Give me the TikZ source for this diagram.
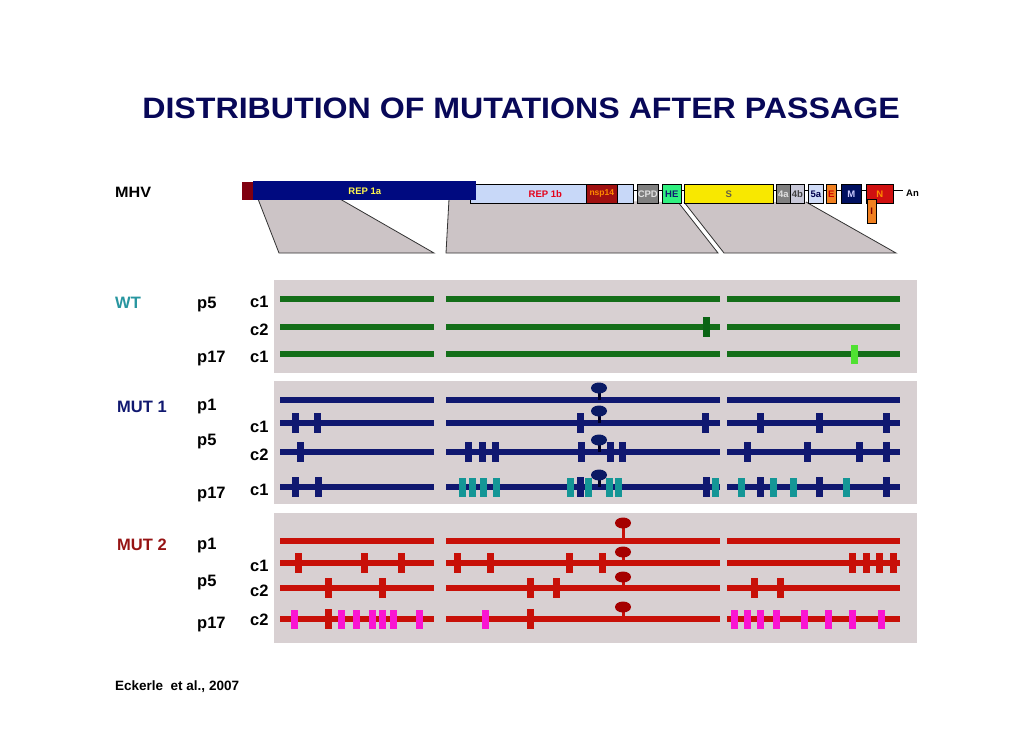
\documentclass[tikz,border=0pt]{standalone}
\usepackage{fontspec}
\setmainfont{Liberation Sans}
\definecolor{titlenavy}{RGB}{8,8,88}
\definecolor{navyline}{RGB}{16,24,112}
\definecolor{navypin}{RGB}{10,26,100}
\definecolor{greenline}{RGB}{20,110,25}
\definecolor{greenmark}{RGB}{10,100,20}
\definecolor{lightgreen}{RGB}{80,225,50}
\definecolor{redline}{RGB}{200,16,8}
\definecolor{redpin}{RGB}{165,0,0}
\definecolor{tealmark}{RGB}{20,150,150}
\definecolor{pinkmark}{RGB}{250,20,210}
\definecolor{panelgray}{RGB}{216,208,210}
\definecolor{trapgray}{RGB}{204,196,198}
\definecolor{wtlabel}{RGB}{40,150,160}
\definecolor{mutredlabel}{RGB}{150,20,20}
\definecolor{repa}{RGB}{0,10,128}
\definecolor{repb}{RGB}{200,216,248}
\definecolor{nspbox}{RGB}{160,16,16}
\definecolor{cpdbox}{RGB}{128,128,128}
\definecolor{hebox}{RGB}{48,240,128}
\definecolor{sbox}{RGB}{248,232,0}
\definecolor{fourbbox}{RGB}{200,200,216}
\definecolor{fiveabox}{RGB}{208,220,248}
\definecolor{ebox}{RGB}{240,128,32}
\definecolor{mbox}{RGB}{0,16,96}
\definecolor{nbox}{RGB}{208,16,16}
\definecolor{leaderbox}{RGB}{128,0,16}

\begin{document}
\begin{tikzpicture}[x=1pt, y=-1pt,
        lbl/.style={anchor=base west, inner sep=0, font=\fontsize{16.5}{18}\selectfont\bfseries},
        gbox/.style={draw=black, line width=0.6, inner sep=0, anchor=north west, minimum height=19,
            font=\fontsize{9.5}{10}\selectfont\bfseries},
        trap/.style={fill=trapgray},
        trapedge/.style={draw=black!80, line width=0.8},
        panel/.style={fill=panelgray},
        seg/.style={line width=6},
        stem/.style={line width=3}
    ]
        \useasboundingbox[fill=white] (0,0) rectangle (1030,728);

        % title
        \node[anchor=base, inner sep=0, text=titlenavy, font=\fontsize{29.5}{32}\selectfont\bfseries] (title) at (521,118)
            {\scalebox{1.09}[1]{DISTRIBUTION OF MUTATIONS AFTER PASSAGE}};

        % genome map
        \node[anchor=base west, inner sep=0, font=\fontsize{15}{17}\selectfont\bfseries] (mhv) at (115,197)
            {\scalebox{1.08}[1]{MHV}};

        \fill[trap] (258,199) -- (340,199) -- (434,253) -- (279,253) -- cycle;
        \draw[trapedge] (258,199) -- (279,253) -- (434,253) -- (340,199);
        \fill[trap] (449,199) -- (678,202) -- (718,253) -- (446,253) -- cycle;
        \draw[trapedge] (449,199) -- (446,253) -- (718,253) -- (678,202);
        \fill[trap] (684,202) -- (806,202) -- (896,253) -- (724,253) -- cycle;
        \draw[trapedge] (684,202) -- (724,253) -- (896,253) -- (806,202);

        \draw[line width=1] (242,190) -- (903,190);
        \node[gbox, draw=none, fill=leaderbox, minimum width=11, minimum height=18] (leader) at (242,182) {};
        \node[gbox, fill=repb, text=red!60!purple, minimum width=163] (rep1b) at (470,184) {\hspace*{-13pt}REP 1b};
        \node[gbox, draw=none, fill=repa, text=yellow!70!white, minimum width=223] (rep1a) at (253,181) {REP 1a};
        \node[gbox, fill=nspbox, text=orange!90!yellow, minimum width=31, font=\fontsize{8.5}{9}\selectfont\bfseries] (nsp) at (586,184) {nsp14};
        \node[gbox, fill=cpdbox, text=white!88!black, minimum width=21] (cpd) at (637,184) {CPD};
        \node[gbox, fill=hebox, text=navyline, minimum width=19] (he) at (662,184) {HE};
        \node[gbox, fill=sbox, text=black!70!yellow, minimum width=89] (spike) at (684,184) {S};
        \node[gbox, fill=cpdbox, text=white!88!black, minimum width=14] (ns4a) at (776,184) {4a};
        \node[gbox, fill=fourbbox, text=black!75, minimum width=14] (ns4b) at (790,184) {4b};
        \node[gbox, fill=fiveabox, text=black!70!blue, minimum width=15] (ns5a) at (808,184) {5a};
        \node[gbox, fill=ebox, text=red!80!black, minimum width=10] (env) at (826,184) {E};
        \node[gbox, fill=mbox, text=blue!20!white, minimum width=20] (mem) at (841,184) {M};
        \node[gbox, fill=nbox, text=orange!90!yellow, minimum width=27] (nuc) at (866,184) {N};
        \node[gbox, fill=ebox, text=red!50!black, minimum width=9, minimum height=24] (intl) at (867,199) {I};
        \node[anchor=west, inner sep=0, font=\fontsize{9.5}{10}\selectfont\bfseries] (polya) at (906,193) {An};

        % panels
        \fill[panel] (274,280) rectangle (917,373);
        \fill[panel] (274,381) rectangle (917,504);
        \fill[panel] (274,513) rectangle (917,643);

        % WT
        \node[lbl, text=wtlabel] (wt) at (115,308) {WT};
        \node[lbl] (wtpfive) at (197,308) {p5};
        \node[lbl] (wtcone) at (250,307) {c1};
        \node[lbl] (wtctwo) at (250,335) {c2};
        \node[lbl] (wtpseventeen) at (197,362) {p17};
        \node[lbl] (wtcthree) at (250,362) {c1};
        \foreach \y in {299,327,354}
            \draw[seg, greenline] (280,\y) -- (434,\y) (446,\y) -- (720,\y) (727,\y) -- (900,\y);
        \fill[greenmark] (702.5,317) rectangle (709.5,337);
        \fill[lightgreen] (850.5,345) rectangle (857.5,364);

        % MUT 1
        \node[lbl, text=navyline] (mutone) at (117,412) {MUT 1};
        \node[lbl] (monepone) at (197,410) {p1};
        \node[lbl] (monecone) at (250,432) {c1};
        \node[lbl] (monepfive) at (197,445) {p5};
        \node[lbl] (monectwo) at (250,460) {c2};
        \node[lbl] (monepseventeen) at (197,498) {p17};
        \node[lbl] (monecthree) at (250,495) {c1};
        \foreach \y in {400,423,452,487}
            \draw[seg, navyline] (280,\y) -- (434,\y) (446,\y) -- (720,\y) (727,\y) -- (900,\y);
        \foreach \x/\y in {295/423,317/423,580/423,705/423,760/423,819/423,886/423,
                300/452,468/452,482/452,495/452,581/452,610/452,622/452,747/452,807/452,859/452,886/452,
                295/487,318/487,580/487,706/487,760/487,819/487,886/487}
            \fill[navyline] (\x-3.5,\y-10) rectangle (\x+3.5,\y+10);
        \foreach \x in {462,472,483,496,570,588,609,618,715,741,773,793,846}
            \fill[tealmark] (\x-3.5,477.5) rectangle (\x+3.5,496.5);
        \foreach \y in {400,423,452,487} {
            \draw[stem, black!85!blue] (599,\y) -- (599,\y-12);
            \fill[navypin] (599,\y-12) ellipse [x radius=8, y radius=5.5];
        }

        % MUT 2
        \node[lbl, text=mutredlabel] (muttwo) at (117,550) {MUT 2};
        \node[lbl] (mtwopone) at (197,549) {p1};
        \node[lbl] (mtwocone) at (250,571) {c1};
        \node[lbl] (mtwopfive) at (197,586) {p5};
        \node[lbl] (mtwoctwo) at (250,596) {c2};
        \node[lbl] (mtwopseventeen) at (197,628) {p17};
        \node[lbl] (mtwocthree) at (250,625) {c2};
        \foreach \y in {541,563,588,619}
            \draw[seg, redline] (280,\y) -- (434,\y) (446,\y) -- (720,\y) (727,\y) -- (900,\y);
        \foreach \x/\y in {298/563,364/563,401/563,457/563,490/563,569/563,602/563,852/563,866/563,879/563,893/563,
                328/588,382/588,530/588,556/588,754/588,780/588,
                328/619,530/619}
            \fill[redline] (\x-3.5,\y-10) rectangle (\x+3.5,\y+10);
        \foreach \x in {294,341,356,372,382,393,419,485,734,747,760,776,804,828,852,881}
            \fill[pinkmark] (\x-3.5,609.5) rectangle (\x+3.5,628.5);
        \foreach \y/\h in {541/18,563/11,588/11,619/12} {
            \draw[stem, redline] (623,\y) -- (623,\y-\h);
            \fill[redpin] (623,\y-\h) ellipse [x radius=8, y radius=5.5];
        }

        % source
        \node[anchor=base west, inner sep=0, font=\fontsize{13.5}{15}\selectfont\bfseries] (cite) at (115,690)
            {Eckerle\ \ et al., 2007};
    \end{tikzpicture}
\end{document}
